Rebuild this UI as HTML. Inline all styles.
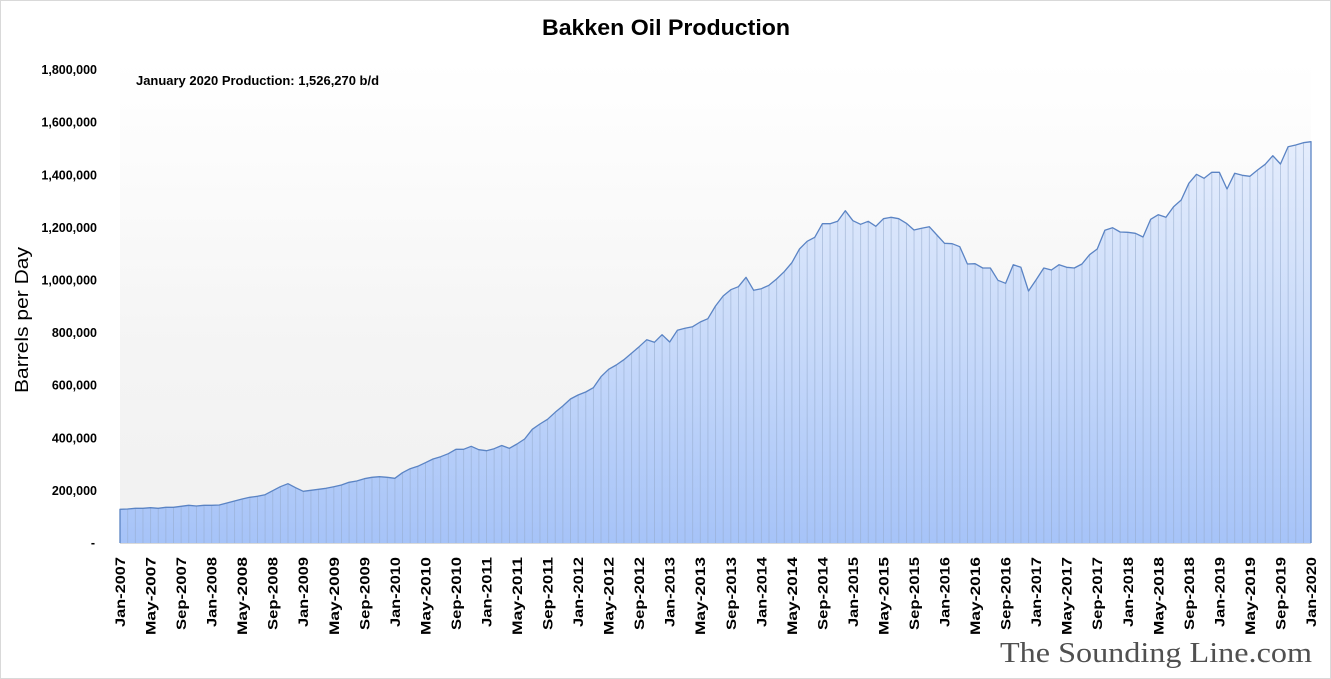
<!DOCTYPE html>
<html><head><meta charset="utf-8"><style>
html,body{margin:0;padding:0;background:#fff;}
svg{display:block;}
text{font-family:"Liberation Sans",Arial,sans-serif;}
</style></head><body>
<svg width="1331" height="679" viewBox="0 0 1331 679" xmlns="http://www.w3.org/2000/svg">
<defs>
<linearGradient id="pg" x1="0" y1="60" x2="0" y2="543" gradientUnits="userSpaceOnUse">
<stop offset="0" stop-color="#ffffff"/><stop offset="0.3" stop-color="#fafafa"/><stop offset="0.6" stop-color="#f4f4f4"/><stop offset="1" stop-color="#f1f1f1"/>
</linearGradient>
<linearGradient id="fg" x1="0" y1="141" x2="0" y2="543" gradientUnits="userSpaceOnUse">
<stop offset="0" stop-color="#e5edfc"/><stop offset="0.5" stop-color="#c8dafa"/><stop offset="1" stop-color="#a6c3f8"/>
</linearGradient>
<pattern id="vl" x="119.6" y="0" width="7.6346" height="679" patternUnits="userSpaceOnUse">
<rect x="0" y="0" width="0.9" height="679" fill="#95aacb" opacity="0.6"/>
</pattern>
<clipPath id="ac"><use href="#areaPath"/></clipPath>
</defs>

<rect x="0.5" y="0.5" width="1330" height="678" fill="#fff" stroke="#d9d9d9" stroke-width="1"/>

<!-- plot area -->
<rect x="120" y="60" width="1191" height="483" fill="url(#pg)"/>

<!-- area fill -->
<path id="areaPath" transform="translate(120,0) scale(7.6346,1)" fill="url(#fg)" stroke="none" d="M0,543 L0,509.3 1,509 2,508.3 3,508.3 4,507.7 5,508.3 6,507.3 7,507.3 8,506.3 9,505.3 10,506 11,505.3 12,505.3 13,505 14,503 15,501 16,499 17,497.3 18,496.3 19,494.7 20,490.7 21,486.7 22,483.7 23,487.7 24,491.3 25,490.3 26,489.3 27,488.3 28,486.7 29,485 30,482.3 31,481 32,478.7 33,477.3 34,476.7 35,477.3 36,478.3 37,472.7 38,468.7 39,466.3 40,462.7 41,459 42,456.7 43,453.7 44,449.3 45,449.3 46,446.3 47,449.7 48,450.7 49,448.7 50,445.5 51,448.3 52,444 53,439 54,429.3 55,424 56,419.3 57,412.3 58,406 59,399 60,395 61,392 62,387.7 63,376.7 64,369.3 65,365 66,359.7 67,353.3 68,346.7 69,339.7 70,342.3 71,334.7 72,342 73,330.3 74,328.3 75,326.7 76,322 77,318.7 78,306 79,296 80,289.7 81,286.7 82,277.3 83,290.3 84,288.7 85,285.3 86,279 87,271.7 88,262.7 89,249 90,241.3 91,237.3 92,223.7 93,223.7 94,221.3 95,210.7 96,220.7 97,224.3 98,221.3 99,226.3 100,218.7 101,217.3 102,218.7 103,223.3 104,230 105,228.3 106,226.7 107,235 108,243.3 109,243.7 110,246.7 111,264 112,263.7 113,268 114,268 115,280.3 116,283.3 117,264.7 118,267.3 119,291 120,279.7 121,268 122,270 123,264.7 124,267.3 125,268 126,264 127,254.7 128,249 129,230.3 130,227.7 131,232 132,232.3 133,233.3 134,237 135,219.3 136,214.7 137,217.3 138,206.7 139,200 140,183.3 141,174.3 142,178.3 143,172.3 144,172.3 145,189 146,173.3 147,175.3 148,176.3 149,170 150,164.3 151,155.7 152,164 153,146.7 154,145 155,142.7 156,141.7 L156,543 Z"/>
<rect x="115" y="130" width="1200" height="415" fill="url(#vl)" clip-path="url(#ac)"/>
<path transform="translate(120,0) scale(7.6346,1)" fill="none" stroke="#5b84c4" stroke-width="1.3" vector-effect="non-scaling-stroke" stroke-linejoin="round" d="M0,543 L0,509.3 1,509 2,508.3 3,508.3 4,507.7 5,508.3 6,507.3 7,507.3 8,506.3 9,505.3 10,506 11,505.3 12,505.3 13,505 14,503 15,501 16,499 17,497.3 18,496.3 19,494.7 20,490.7 21,486.7 22,483.7 23,487.7 24,491.3 25,490.3 26,489.3 27,488.3 28,486.7 29,485 30,482.3 31,481 32,478.7 33,477.3 34,476.7 35,477.3 36,478.3 37,472.7 38,468.7 39,466.3 40,462.7 41,459 42,456.7 43,453.7 44,449.3 45,449.3 46,446.3 47,449.7 48,450.7 49,448.7 50,445.5 51,448.3 52,444 53,439 54,429.3 55,424 56,419.3 57,412.3 58,406 59,399 60,395 61,392 62,387.7 63,376.7 64,369.3 65,365 66,359.7 67,353.3 68,346.7 69,339.7 70,342.3 71,334.7 72,342 73,330.3 74,328.3 75,326.7 76,322 77,318.7 78,306 79,296 80,289.7 81,286.7 82,277.3 83,290.3 84,288.7 85,285.3 86,279 87,271.7 88,262.7 89,249 90,241.3 91,237.3 92,223.7 93,223.7 94,221.3 95,210.7 96,220.7 97,224.3 98,221.3 99,226.3 100,218.7 101,217.3 102,218.7 103,223.3 104,230 105,228.3 106,226.7 107,235 108,243.3 109,243.7 110,246.7 111,264 112,263.7 113,268 114,268 115,280.3 116,283.3 117,264.7 118,267.3 119,291 120,279.7 121,268 122,270 123,264.7 124,267.3 125,268 126,264 127,254.7 128,249 129,230.3 130,227.7 131,232 132,232.3 133,233.3 134,237 135,219.3 136,214.7 137,217.3 138,206.7 139,200 140,183.3 141,174.3 142,178.3 143,172.3 144,172.3 145,189 146,173.3 147,175.3 148,176.3 149,170 150,164.3 151,155.7 152,164 153,146.7 154,145 155,142.7 156,141.7 L156,543"/>

<!-- axis line -->
<line x1="120" y1="543.5" x2="1311" y2="543.5" stroke="#d9d9d9" stroke-width="1"/>

<!-- title -->
<text x="666" y="35" text-anchor="middle" font-size="22" font-weight="bold" fill="#000" textLength="248" lengthAdjust="spacingAndGlyphs">Bakken Oil Production</text>

<!-- annotation -->
<text x="136" y="85" font-size="12.5" font-weight="bold" fill="#000" textLength="243" lengthAdjust="spacingAndGlyphs">January 2020 Production: 1,526,270  b/d</text>

<!-- y axis title -->
<text transform="translate(28,320) rotate(-90)" text-anchor="middle" font-size="18" fill="#000" textLength="146" lengthAdjust="spacingAndGlyphs">Barrels per Day</text>

<!-- y tick labels -->
<g font-size="12.5" font-weight="bold" fill="#000" text-anchor="end">
<text x="97" y="74">1,800,000</text>
<text x="97" y="126.7">1,600,000</text>
<text x="97" y="179.3">1,400,000</text>
<text x="97" y="231.9">1,200,000</text>
<text x="97" y="284.5">1,000,000</text>
<text x="97" y="337.1">800,000</text>
<text x="97" y="389.7">600,000</text>
<text x="97" y="442.3">400,000</text>
<text x="97" y="494.9">200,000</text>
<text x="95" y="547">-</text>
</g>

<!-- x tick labels -->
<g font-size="14" font-weight="bold" fill="#000" text-anchor="end">
<text transform="translate(125,557) rotate(-90)" textLength="70" lengthAdjust="spacingAndGlyphs">Jan-2007</text>
<text transform="translate(155.54,557) rotate(-90)" textLength="78" lengthAdjust="spacingAndGlyphs">May-2007</text>
<text transform="translate(186.08,557) rotate(-90)" textLength="73" lengthAdjust="spacingAndGlyphs">Sep-2007</text>
<text transform="translate(216.62,557) rotate(-90)" textLength="70" lengthAdjust="spacingAndGlyphs">Jan-2008</text>
<text transform="translate(247.15,557) rotate(-90)" textLength="78" lengthAdjust="spacingAndGlyphs">May-2008</text>
<text transform="translate(277.69,557) rotate(-90)" textLength="73" lengthAdjust="spacingAndGlyphs">Sep-2008</text>
<text transform="translate(308.23,557) rotate(-90)" textLength="70" lengthAdjust="spacingAndGlyphs">Jan-2009</text>
<text transform="translate(338.77,557) rotate(-90)" textLength="78" lengthAdjust="spacingAndGlyphs">May-2009</text>
<text transform="translate(369.31,557) rotate(-90)" textLength="73" lengthAdjust="spacingAndGlyphs">Sep-2009</text>
<text transform="translate(399.85,557) rotate(-90)" textLength="70" lengthAdjust="spacingAndGlyphs">Jan-2010</text>
<text transform="translate(430.38,557) rotate(-90)" textLength="78" lengthAdjust="spacingAndGlyphs">May-2010</text>
<text transform="translate(460.92,557) rotate(-90)" textLength="73" lengthAdjust="spacingAndGlyphs">Sep-2010</text>
<text transform="translate(491.46,557) rotate(-90)" textLength="70" lengthAdjust="spacingAndGlyphs">Jan-2011</text>
<text transform="translate(522,557) rotate(-90)" textLength="78" lengthAdjust="spacingAndGlyphs">May-2011</text>
<text transform="translate(552.54,557) rotate(-90)" textLength="73" lengthAdjust="spacingAndGlyphs">Sep-2011</text>
<text transform="translate(583.08,557) rotate(-90)" textLength="70" lengthAdjust="spacingAndGlyphs">Jan-2012</text>
<text transform="translate(613.61,557) rotate(-90)" textLength="78" lengthAdjust="spacingAndGlyphs">May-2012</text>
<text transform="translate(644.15,557) rotate(-90)" textLength="73" lengthAdjust="spacingAndGlyphs">Sep-2012</text>
<text transform="translate(674.69,557) rotate(-90)" textLength="70" lengthAdjust="spacingAndGlyphs">Jan-2013</text>
<text transform="translate(705.23,557) rotate(-90)" textLength="78" lengthAdjust="spacingAndGlyphs">May-2013</text>
<text transform="translate(735.77,557) rotate(-90)" textLength="73" lengthAdjust="spacingAndGlyphs">Sep-2013</text>
<text transform="translate(766.31,557) rotate(-90)" textLength="70" lengthAdjust="spacingAndGlyphs">Jan-2014</text>
<text transform="translate(796.84,557) rotate(-90)" textLength="78" lengthAdjust="spacingAndGlyphs">May-2014</text>
<text transform="translate(827.38,557) rotate(-90)" textLength="73" lengthAdjust="spacingAndGlyphs">Sep-2014</text>
<text transform="translate(857.92,557) rotate(-90)" textLength="70" lengthAdjust="spacingAndGlyphs">Jan-2015</text>
<text transform="translate(888.46,557) rotate(-90)" textLength="78" lengthAdjust="spacingAndGlyphs">May-2015</text>
<text transform="translate(919,557) rotate(-90)" textLength="73" lengthAdjust="spacingAndGlyphs">Sep-2015</text>
<text transform="translate(949.54,557) rotate(-90)" textLength="70" lengthAdjust="spacingAndGlyphs">Jan-2016</text>
<text transform="translate(980.08,557) rotate(-90)" textLength="78" lengthAdjust="spacingAndGlyphs">May-2016</text>
<text transform="translate(1010.61,557) rotate(-90)" textLength="73" lengthAdjust="spacingAndGlyphs">Sep-2016</text>
<text transform="translate(1041.15,557) rotate(-90)" textLength="70" lengthAdjust="spacingAndGlyphs">Jan-2017</text>
<text transform="translate(1071.69,557) rotate(-90)" textLength="78" lengthAdjust="spacingAndGlyphs">May-2017</text>
<text transform="translate(1102.23,557) rotate(-90)" textLength="73" lengthAdjust="spacingAndGlyphs">Sep-2017</text>
<text transform="translate(1132.77,557) rotate(-90)" textLength="70" lengthAdjust="spacingAndGlyphs">Jan-2018</text>
<text transform="translate(1163.31,557) rotate(-90)" textLength="78" lengthAdjust="spacingAndGlyphs">May-2018</text>
<text transform="translate(1193.84,557) rotate(-90)" textLength="73" lengthAdjust="spacingAndGlyphs">Sep-2018</text>
<text transform="translate(1224.38,557) rotate(-90)" textLength="70" lengthAdjust="spacingAndGlyphs">Jan-2019</text>
<text transform="translate(1254.92,557) rotate(-90)" textLength="78" lengthAdjust="spacingAndGlyphs">May-2019</text>
<text transform="translate(1285.46,557) rotate(-90)" textLength="73" lengthAdjust="spacingAndGlyphs">Sep-2019</text>
<text transform="translate(1316,557) rotate(-90)" textLength="70" lengthAdjust="spacingAndGlyphs">Jan-2020</text>
</g>

<!-- watermark -->
<text x="1000" y="662" font-size="28" fill="#505050" textLength="312" lengthAdjust="spacingAndGlyphs" style="font-family:'Liberation Serif',serif">The Sounding Line.com</text>
</svg>
</body></html>
